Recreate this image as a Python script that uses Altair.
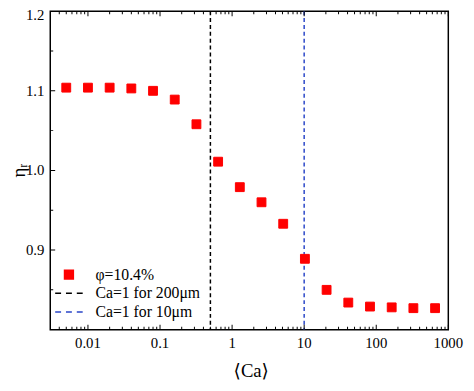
import altair as alt
import pandas as pd

# ---- data ----
ca = [0.005, 0.01, 0.02, 0.04, 0.08, 0.16, 0.32, 0.64, 1.28, 2.56, 5.12,
      10.24, 20.48, 40.96, 81.92, 163.84, 327.68, 655.36]
eta = [1.104, 1.104, 1.104, 1.103, 1.100, 1.089, 1.058, 1.011, 0.979, 0.960,
       0.933, 0.889, 0.850, 0.834, 0.829, 0.828, 0.827, 0.827]
series = ["φ=10.4%", "Ca=1 for 200μm", "Ca=1 for 10μm"]
series_colors = ["#ff0000", "#000000", "#2a46c8"]
vline_ca = [0.5, 10]
x_major = [0.01, 0.1, 1, 10, 100, 1000]
x_labels = ["0.01", "0.1", "1", "10", "100", "1000"]
x_minor = [round(k * 10.0 ** e, 6) for e in range(-3, 3) for k in range(2, 10)
           if 0.003 <= round(k * 10.0 ** e, 6) <= 1000]
y_major = [0.9, 1.0, 1.1, 1.2]
y_labels = ["0.9", "1.0", "1.1", "1.2"]
y_minor = [0.85, 0.95, 1.05, 1.15]
x_domain = [0.003, 1000]
y_domain = [0.8, 1.2]
x_title = "⟨Ca⟩"
y_title = "ηᵣ"

FONT = "'Liberation Serif', 'Times New Roman', 'DejaVu Serif', serif"
W, H = 405, 324

square_path = "M-0.45,-0.45H0.45V0.45H-0.45Z"
dash_path = "M-1.4,0H-0.8M-0.3,0H0.3M0.8,0H1.4"
shapes = [square_path, dash_path, dash_path]

df = pd.DataFrame({"ca": ca, "eta": eta, "series": series[0]})

xs = alt.Scale(type="log", domain=x_domain, nice=False)
ys = alt.Scale(domain=y_domain, nice=False, zero=False)

leg = alt.Legend(title=None, orient="none", legendX=8, legendY=257,
                 symbolSize=400, symbolStrokeWidth=1.5, labelFont=FONT,
                 labelFontSize=16, labelColor="black", rowPadding=0,
                 labelOffset=16, padding=0)

points = alt.Chart(df).mark_point(filled=True, size=400, strokeWidth=1, opacity=1).encode(
    x=alt.X("ca:Q", scale=xs, axis=None),
    y=alt.Y("eta:Q", scale=ys, axis=None),
    fill=alt.Fill("series:N", scale=alt.Scale(domain=series, range=series_colors), legend=leg),
    stroke=alt.Stroke("series:N", scale=alt.Scale(domain=series, range=series_colors), legend=leg),
    shape=alt.Shape("series:N", scale=alt.Scale(domain=series, range=shapes), legend=leg),
)

rule_black = alt.Chart(pd.DataFrame({"ca": vline_ca[:1]})).mark_rule(
    strokeDash=[4, 3], strokeWidth=1.5, color=series_colors[1]
).encode(x=alt.X("ca:Q", scale=xs, axis=None))

rule_blue = alt.Chart(pd.DataFrame({"ca": vline_ca[1:]})).mark_rule(
    strokeDash=[4, 3], strokeWidth=1.5, color=series_colors[2]
).encode(x=alt.X("ca:Q", scale=xs, axis=None))


def x_ticks(values, edge, length):
    return alt.Chart(pd.DataFrame({"v": values})).mark_tick(
        orient="vertical", size=2 * length, thickness=1, clip=True, color="black", opacity=1
    ).encode(
        x=alt.X("v:Q", scale=xs, axis=None),
        y=alt.YDatum(edge, scale=ys, axis=None),
    )


def y_ticks(values, edge, length):
    return alt.Chart(pd.DataFrame({"v": values})).mark_tick(
        orient="horizontal", size=2 * length, thickness=1, clip=True, color="black", opacity=1
    ).encode(
        y=alt.Y("v:Q", scale=ys, axis=None),
        x=alt.XDatum(edge, scale=xs, axis=None),
    )


tick_layers = [
    x_ticks(x_major, y_domain[0], 5), x_ticks(x_minor, y_domain[0], 3),
    x_ticks(x_major, y_domain[1], 5), x_ticks(x_minor, y_domain[1], 3),
    y_ticks(y_major, x_domain[0], 5), y_ticks(y_minor, x_domain[0], 3),
]

# tick labels, placed through the scales at the frame edges
x_lab = alt.Chart(pd.DataFrame({"v": x_major, "t": x_labels})).mark_text(
    font=FONT, fontSize=15, color="black", baseline="top", align="center", dy=7
).encode(
    x=alt.X("v:Q", scale=xs, axis=None),
    y=alt.YDatum(y_domain[0], scale=ys, axis=None),
    text="t:N",
)

y_lab = alt.Chart(pd.DataFrame({"v": y_major[:-1], "t": y_labels[:-1]})).mark_text(
    font=FONT, fontSize=15, color="black", baseline="middle", align="right", dx=-6
).encode(
    y=alt.Y("v:Q", scale=ys, axis=None),
    x=alt.XDatum(x_domain[0], scale=xs, axis=None),
    text="t:N",
)

y_lab_top = alt.Chart(pd.DataFrame({"v": y_major[-1:], "t": y_labels[-1:]})).mark_text(
    font=FONT, fontSize=15, color="black", baseline="middle", align="right", dx=-6, dy=4
).encode(
    y=alt.Y("v:Q", scale=ys, axis=None),
    x=alt.XDatum(x_domain[0], scale=xs, axis=None),
    text="t:N",
)

x_ttl = alt.Chart(pd.DataFrame({"t": [x_title]})).mark_text(
    font=FONT, fontSize=19, color="black", baseline="middle", align="center"
).encode(x=alt.value(W / 2 + 2), y=alt.value(H + 42), text="t:N")

y_ttl = alt.Chart(pd.DataFrame({"t": [y_title]})).mark_text(
    font=FONT, fontSize=19, color="black", baseline="middle", align="center", angle=270
).encode(x=alt.value(-32), y=alt.value(H / 2), text="t:N")

chart = alt.layer(rule_black, rule_blue, *tick_layers, points,
                  x_lab, y_lab, y_lab_top, x_ttl, y_ttl).properties(
    width=W, height=H,
    autosize=alt.AutoSizeParams(type="none"),
    padding={"left": 43, "top": 0, "right": 18, "bottom": 51},
    background="white",
).configure_view(stroke="black", strokeWidth=1.5)

chart.save("out.html", embed_options={"renderer": "svg", "actions": False})
